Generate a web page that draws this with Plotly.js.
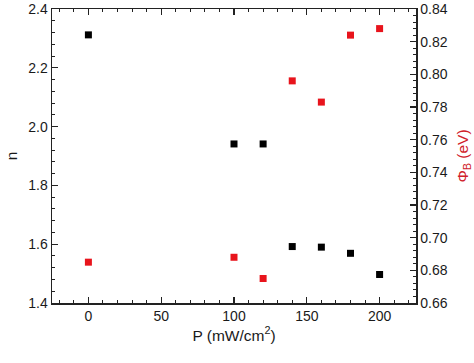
<!DOCTYPE html>
<html>
<head>
<meta charset="utf-8">
<script src="https://cdn.plot.ly/plotly-3.0.1.min.js"></script>
<style>html,body{margin:0;padding:0;background:#fff;}#chart{width:474px;height:363px;}</style>
</head>
<body>
<div id="chart"></div>
<script>
const power = [0, 100, 120, 140, 160, 180, 200];
const nValues = [2.312, 1.941, 1.941, 1.592, 1.590, 1.569, 1.497];
const phiValues = [0.685, 0.688, 0.675, 0.796, 0.783, 0.824, 0.828];

const fontFam = 'Liberation Sans, Arial, sans-serif';
const traces = [
  {x: power, y: nValues, type: 'scatter', mode: 'markers', name: 'n',
   marker: {symbol: 'square', size: 7, color: '#000000'}, yaxis: 'y'},
  {x: power, y: phiValues, type: 'scatter', mode: 'markers', name: 'ΦB',
   marker: {symbol: 'square', size: 7, color: '#e8141c'}, yaxis: 'y2'}
];
const layout = {
  width: 474, height: 363,
  margin: {l: 52, r: 58, t: 9, b: 60},
  paper_bgcolor: '#ffffff', plot_bgcolor: '#ffffff',
  showlegend: false,
  font: {family: fontFam, size: 14, color: '#1a1a1a'},
  xaxis: {
    range: [-25, 225], dtick: 50, tick0: 0,
    showgrid: false, zeroline: false,
    showline: true, linecolor: '#222', linewidth: 1.5, mirror: 'ticks',
    ticks: 'inside', ticklen: 6, tickwidth: 1.3, tickcolor: '#222',
    minor: {ticks: 'inside', dtick: 10, ticklen: 3, tickwidth: 1, tickcolor: '#222'},
    tickfont: {size: 14},
    title: {text: 'P (mW/cm<sup>2</sup>)', font: {size: 15.5}, standoff: 0}
  },
  yaxis: {
    range: [1.4, 2.4], dtick: 0.2, tick0: 1.4, tickformat: '.1f',
    showgrid: false, zeroline: false,
    showline: true, linecolor: '#222', linewidth: 1.5,
    ticks: 'inside', ticklen: 6, tickwidth: 1.3, tickcolor: '#222',
    minor: {ticks: 'inside', dtick: 0.04, ticklen: 3, tickwidth: 1, tickcolor: '#222'},
    tickfont: {size: 14},
    title: {text: 'n', font: {size: 15.5}, standoff: 7}
  },
  yaxis2: {
    overlaying: 'y', side: 'right',
    range: [0.66, 0.84], dtick: 0.02, tick0: 0.66, tickformat: '.2f',
    showgrid: false, zeroline: false,
    showline: true, linecolor: '#222', linewidth: 1.5,
    ticks: 'inside', ticklen: 6, tickwidth: 1.3, tickcolor: '#222',
    minor: {ticks: 'inside', dtick: 0.004, ticklen: 3, tickwidth: 1, tickcolor: '#222'},
    tickfont: {size: 14},
    title: {text: 'Φ<sub>B</sub> (eV)', font: {size: 15.5, color: '#d0202a'}, standoff: 10}
  }
};
Plotly.newPlot('chart', traces, layout, {displayModeBar: false, staticPlot: true});
</script>
</body>
</html>
